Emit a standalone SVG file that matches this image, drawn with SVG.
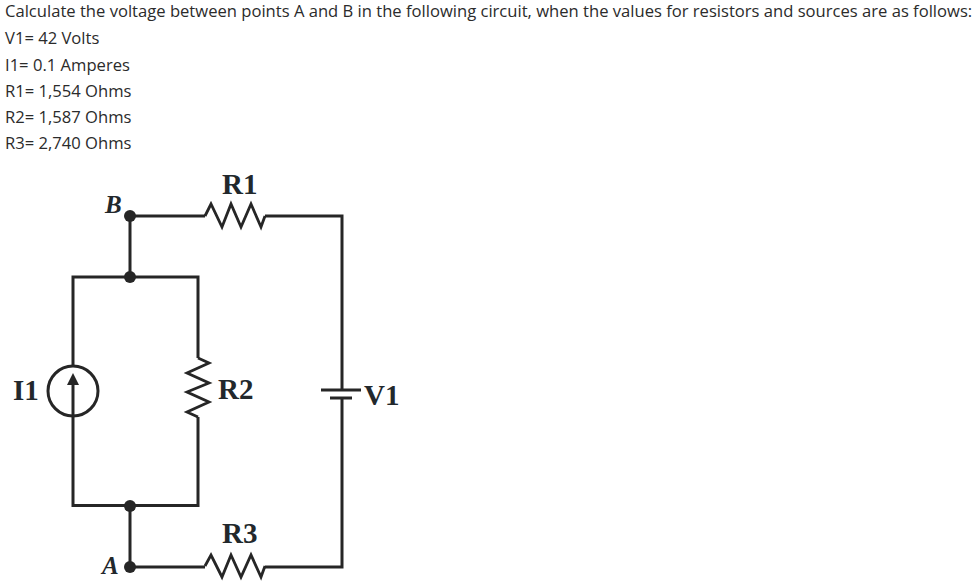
<svg xmlns="http://www.w3.org/2000/svg" width="976" height="585" viewBox="0 0 976 585">
<style>
.t{font-family:"Open Sans","Noto Sans",sans-serif;font-size:16.6px;fill:#2b2b2b}
.l{font-family:"Liberation Serif",serif;font-weight:bold;font-size:29px;fill:#22282c}
.i{font-family:"Liberation Serif",serif;font-weight:bold;font-style:italic;font-size:25px;fill:#22282c}
.w{fill:none;stroke:#262626;stroke-width:3;stroke-linejoin:miter}
.r{fill:none;stroke:#262626;stroke-width:2.8;stroke-linejoin:miter}
.d{fill:#262626}
</style>
<rect width="976" height="585" fill="#fff"/>
<g id="question">
<text class="t" x="5" y="17">Calculate the voltage between points A and B in the following circuit, when the values for resistors and sources are as follows:</text>
<text class="t" x="5" y="44">V1= 42 Volts</text>
<text class="t" x="5" y="71">I1= 0.1 Amperes</text>
<text class="t" x="5" y="97">R1= 1,554 Ohms</text>
<text class="t" x="5" y="123">R2= 1,587 Ohms</text>
<text class="t" x="5" y="149">R3= 2,740 Ohms</text>
</g>
<g id="connectors">
<path class="w" d="M130 216V277M73 366V277H198V358"/>
<path class="w" d="M73 416V505.5H198V417M130 505.5V567"/>
<path class="w" d="M130 216H205M265 216H342V390M342 398V567H265M205 567H130"/>
</g>
<g id="node-B"><circle class="d" cx="130" cy="216" r="6"/><text class="i" x="105" y="213">B</text></g>
<g id="node-top"><circle class="d" cx="130" cy="277" r="6"/></g>
<g id="node-bottom"><circle class="d" cx="130" cy="506" r="6"/></g>
<g id="node-A"><circle class="d" cx="130" cy="567" r="6"/><text class="i" x="102" y="574">A</text></g>
<g id="R1"><path class="r" d="M205 216L211 204L222 227L231 204L241 227L251 204L261 227L265 216"/><text class="l" x="222" y="194">R1</text></g>
<g id="R2"><path class="r" d="M198 358L209 363L187 373L209 383L187 392L209 402L187 412L198 417"/><text class="l" x="218" y="399">R2</text></g>
<g id="R3"><path class="r" d="M205 566L211 555L222 577L231 555L241 577L251 555L261 577L265 566"/><text class="l" x="222" y="543">R3</text></g>
<g id="I1"><circle cx="73" cy="391" r="25" fill="#fff" stroke="#262626" stroke-width="3"/><path class="w" d="M73 416V384"/><path class="d" d="M73 373L79 385H67Z"/><text class="l" x="13" y="400">I1</text></g>
<g id="V1"><path class="w" d="M321 390H361M330 398H352"/><text class="l" x="364" y="405">V1</text></g>
</svg>
